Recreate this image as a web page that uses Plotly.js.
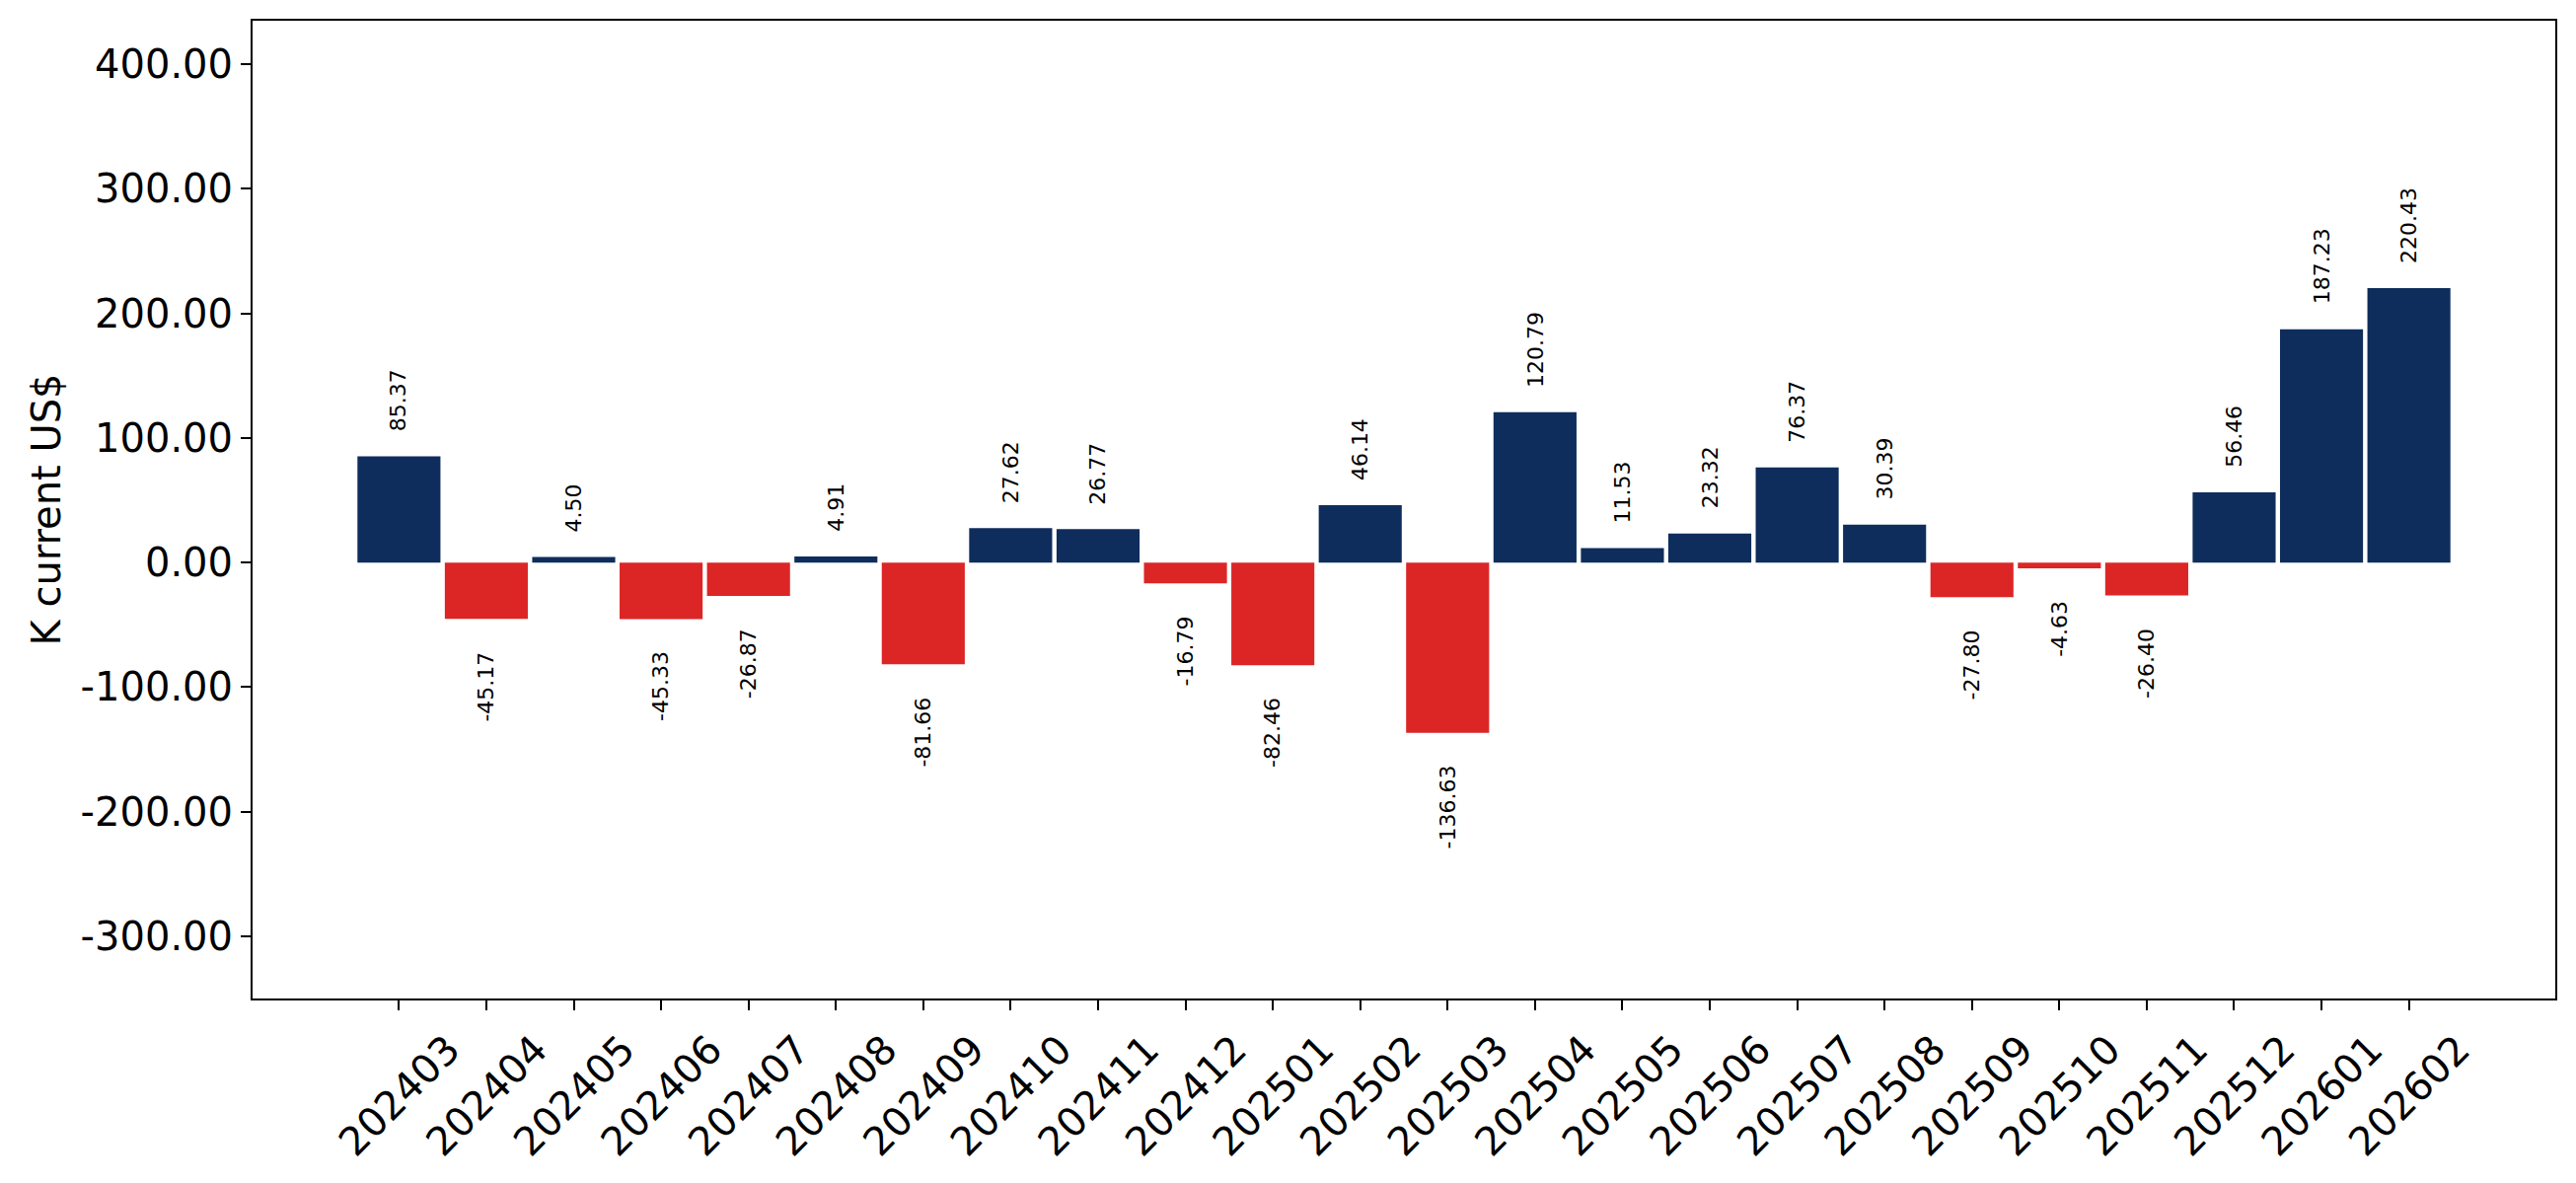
<!DOCTYPE html>
<html><head><meta charset="utf-8">
<script src="https://cdn.plot.ly/plotly-3.0.1.min.js"></script>
<style>html,body{margin:0;padding:0;background:#fff}#chart{width:2611px;height:1199px}</style>
</head><body><div id="chart"></div>
<script>
// Data
const months = ['202403','202404','202405','202406','202407','202408','202409','202410','202411','202412',
  '202501','202502','202503','202504','202505','202506','202507','202508','202509','202510','202511','202512',
  '202601','202602'];
const values = [85.37,-45.17,4.50,-45.33,-26.87,4.91,-81.66,27.62,26.77,-16.79,
  -82.46,46.14,-136.63,120.79,11.53,23.32,76.37,30.39,-27.80,-4.63,-26.40,56.46,
  187.23,220.43];
const yTickVals = [-300,-200,-100,0,100,200,300,400];
const yTitle = 'K current US$';

const posColor = '#0f2d5c';
const negColor = '#dc2626';
const FONT = 'DejaVu Sans, sans-serif';

const trace = {
  type: 'bar',
  x: months,
  y: values,
  width: 0.95,
  marker: { color: values.map(v => v >= 0 ? posColor : negColor), line: { width: 0 } },
  hoverinfo: 'x+y'
};

// value labels, placed at each bar's category position on the axis
const annotations = values.map((v, i) => ({
  x: i, y: v, xref: 'x', yref: 'y',
  text: v.toFixed(2),
  textangle: -90,
  showarrow: false,
  xanchor: 'center',
  yanchor: v >= 0 ? 'bottom' : 'top',
  yshift: v >= 0 ? 23 : -31,
  font: { family: FONT, size: 22, color: '#000' }
}));

const layout = {
  width: 2611, height: 1199,
  margin: { l: 256, r: 21, t: 21, b: 187, pad: 0 },
  paper_bgcolor: '#fff', plot_bgcolor: '#fff',
  showlegend: false,
  font: { family: FONT, color: '#000' },
  xaxis: {
    type: 'category',
    range: [-1.675, 24.675],
    showgrid: false, zeroline: false,
    showline: true, mirror: true, linecolor: '#000', linewidth: 2,
    ticks: 'outside', ticklen: 10, tickwidth: 2, tickcolor: '#000',
    tickangle: -45,
    ticklabelshift: 50,
    tickfont: { family: FONT, size: 40, color: '#000' }
  },
  yaxis: {
    range: [-350, 435],
    tickvals: yTickVals,
    ticktext: yTickVals.map(v => v.toFixed(2)),
    showgrid: false, zeroline: false,
    showline: true, mirror: true, linecolor: '#000', linewidth: 2,
    ticks: 'outside', ticklen: 10, tickwidth: 2, tickcolor: '#000',
    tickfont: { family: FONT, size: 40, color: '#000' },
    title: { text: yTitle, standoff: 8, font: { family: FONT, size: 40, color: '#000' } }
  },
  annotations: annotations
};

Plotly.newPlot('chart', [trace], layout, { displayModeBar: false, staticPlot: true });
</script>
</body></html>
